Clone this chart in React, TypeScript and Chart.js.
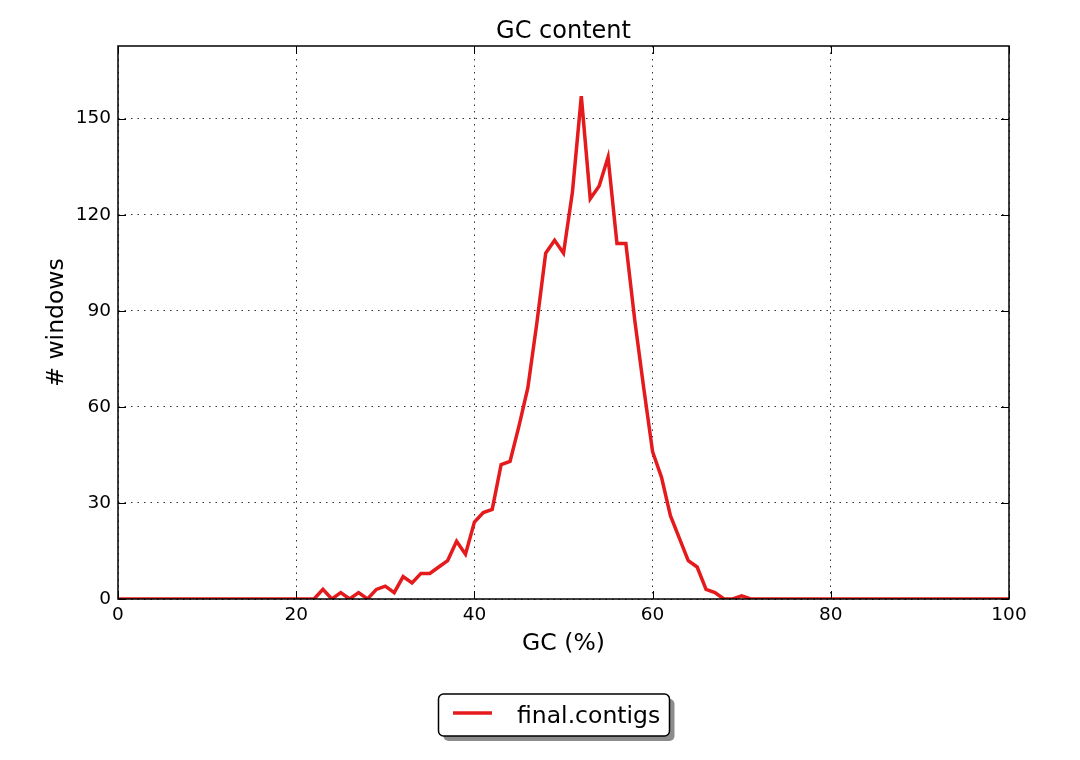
import React, { useEffect, useRef } from "react";
import { Chart, registerables } from "chart.js";

Chart.register(...registerables);

// ---- data ----
const gcPercent = [
  0, 1, 2, 3, 4, 5, 6, 7, 8, 9, 10, 11, 12, 13, 14, 15, 16, 17, 18, 19, 20,
  21, 22, 23, 24, 25, 26, 27, 28, 29, 30, 31, 32, 33, 34, 35, 36, 37, 38, 39, 40,
  41, 42, 43, 44, 45, 46, 47, 48, 49, 50, 51, 52, 53, 54, 55, 56, 57, 58, 59, 60,
  61, 62, 63, 64, 65, 66, 67, 68, 69, 70, 71, 72, 73, 74, 75, 76, 77, 78, 79, 80,
  81, 82, 83, 84, 85, 86, 87, 88, 89, 90, 91, 92, 93, 94, 95, 96, 97, 98, 99, 100,
];
const windowCounts = [
  0, 0, 0, 0, 0, 0, 0, 0, 0, 0, 0, 0, 0, 0, 0, 0, 0, 0, 0, 0, 0,
  0, 0, 3, 0, 2, 0, 2, 0, 3, 4, 2, 7, 5, 8, 8, 10, 12, 18, 14, 24,
  27, 28, 42, 43, 54, 66, 86, 108, 112, 108, 127, 157, 125, 129, 138, 111, 111, 87, 66, 46,
  38, 26, 19, 12, 10, 3, 2, 0, 0, 1, 0, 0, 0, 0, 0, 0, 0, 0, 0, 0,
  0, 0, 0, 0, 0, 0, 0, 0, 0, 0, 0, 0, 0, 0, 0, 0, 0, 0, 0, 0,
];
const xTickValues = [0, 20, 40, 60, 80, 100];
const yTickValues = [0, 30, 60, 90, 120, 150];
const yAxisMax = 172.7;
const seriesName = "final.contigs";
const chartTitle = "GC content";
const xAxisTitle = "GC (%)";
const yAxisTitle = "# windows";

const LINE_COLOR = "#e41a1c";
const FONT = "'DejaVu Sans', 'Noto Sans', sans-serif";

const framePlugin = {
  id: "frame",
  afterDatasetsDraw(chart: any) {
    const { ctx, chartArea: a, scales } = chart;
    ctx.save();
    const seg = (x1: number, y1: number, x2: number, y2: number) => {
      ctx.beginPath();
      ctx.moveTo(x1, y1);
      ctx.lineTo(x2, y2);
      ctx.stroke();
    };
    // inward ticks on all four sides
    ctx.strokeStyle = "#000";
    ctx.lineWidth = 1;
    const L = 8;
    xTickValues.forEach((v) => {
      const px = Math.round(scales.x.getPixelForValue(v)) + 0.5;
      seg(px, a.bottom, px, a.bottom - L);
      seg(px, a.top, px, a.top + L);
    });
    yTickValues.forEach((v) => {
      const py = Math.round(scales.y.getPixelForValue(v)) + 0.5;
      seg(a.left, py, a.left + L, py);
      seg(a.right, py, a.right - L, py);
    });
    // frame
    ctx.lineWidth = 1.5;
    ctx.strokeRect(a.left, a.top, a.right - a.left, a.bottom - a.top);
    // title centred over the plot area
    ctx.fillStyle = "#000";
    ctx.font = `24px ${FONT}`;
    ctx.textAlign = "center";
    ctx.textBaseline = "alphabetic";
    ctx.fillText(chartTitle, (a.left + a.right) / 2, 38);
    ctx.restore();
  },
  afterDraw(chart: any) {
    const { ctx } = chart;
    ctx.save();
    const bx = 438.5, by = 694, bw = 231, bh = 42, r = 5;
    const rr = (x: number, y: number, w: number, h: number) => {
      ctx.beginPath();
      ctx.moveTo(x + r, y);
      ctx.lineTo(x + w - r, y);
      ctx.arcTo(x + w, y, x + w, y + r, r);
      ctx.lineTo(x + w, y + h - r);
      ctx.arcTo(x + w, y + h, x + w - r, y + h, r);
      ctx.lineTo(x + r, y + h);
      ctx.arcTo(x, y + h, x, y + h - r, r);
      ctx.lineTo(x, y + r);
      ctx.arcTo(x, y, x + r, y, r);
      ctx.closePath();
    };
    // shadow
    rr(bx + 5, by + 5, bw, bh);
    ctx.fillStyle = "rgba(0,0,0,0.45)";
    ctx.fill();
    // box
    rr(bx, by, bw, bh);
    ctx.fillStyle = "#fff";
    ctx.fill();
    ctx.strokeStyle = "#000";
    ctx.lineWidth = 1.5;
    ctx.stroke();
    // sample line
    ctx.strokeStyle = LINE_COLOR;
    ctx.lineWidth = 3.5;
    ctx.beginPath();
    ctx.moveTo(453, 713);
    ctx.lineTo(492, 713);
    ctx.stroke();
    // label
    ctx.fillStyle = "#000";
    ctx.font = `23.5px ${FONT}`;
    ctx.textAlign = "left";
    ctx.textBaseline = "alphabetic";
    ctx.fillText(seriesName, 517, 722.5);
    ctx.restore();
  },
};

export default function App() {
  const canvasRef = useRef<HTMLCanvasElement | null>(null);

  useEffect(() => {
    const canvas = canvasRef.current;
    if (!canvas) return;
    const chart = new Chart(canvas, {
      type: "line",
      data: {
        datasets: [
          {
            label: seriesName,
            data: gcPercent.map((x, i) => ({ x, y: windowCounts[i] })),
            borderColor: LINE_COLOR,
            backgroundColor: LINE_COLOR,
            borderWidth: 3.5,
            pointRadius: 0,
            pointHoverRadius: 0,
            tension: 0,
            fill: false,
          },
        ],
      },
      options: {
        responsive: false,
        animation: false,
        devicePixelRatio: 1,
        events: [],
        layout: { padding: { left: 0, right: 71, top: 46, bottom: 0 } },
        plugins: {
          legend: { display: false },
          tooltip: { enabled: false },
          title: { display: false },
        },
        scales: {
          x: {
            type: "linear",
            min: 0,
            max: 100,
            afterBuildTicks: (s: any) => {
              s.ticks = xTickValues.map((v) => ({ value: v }));
            },
            afterFit: (s: any) => {
              s.height = 161;
            },
            grid: { color: "rgba(0,0,0,0.8)", lineWidth: 1, drawTicks: false },
            border: { display: false, dash: [1.5, 5] },
            ticks: {
              padding: 5,
              color: "#000",
              maxRotation: 0,
              autoSkip: false,
              font: { family: FONT, size: 18.5, lineHeight: 1.2 },
            },
            title: {
              display: true,
              text: xAxisTitle,
              color: "#000",
              font: { family: FONT, size: 23.5, lineHeight: 1.2 },
              padding: { top: 0, bottom: 102 },
            },
          },
          y: {
            type: "linear",
            min: 0,
            max: yAxisMax,
            afterBuildTicks: (s: any) => {
              s.ticks = yTickValues.map((v) => ({ value: v }));
            },
            afterFit: (s: any) => {
              s.width = 118;
            },
            grid: { color: "rgba(0,0,0,0.8)", lineWidth: 1, drawTicks: false },
            border: { display: false, dash: [1.5, 5] },
            ticks: {
              padding: 7,
              color: "#000",
              font: { family: FONT, size: 18.5, lineHeight: 1.2 },
            },
            title: {
              display: true,
              text: yAxisTitle,
              color: "#000",
              font: { family: FONT, size: 23.5, lineHeight: 1.2 },
              padding: { top: 43, bottom: 0 },
            },
          },
        },
      },
      plugins: [framePlugin],
    } as any);
    return () => chart.destroy();
  }, []);

  return (
    <div
      style={{
        position: "fixed",
        left: 0,
        top: 0,
        width: 1080,
        height: 760,
        background: "#fff",
      }}
    >
      <canvas ref={canvasRef} width={1080} height={760} style={{ display: "block" }} />
    </div>
  );
}
